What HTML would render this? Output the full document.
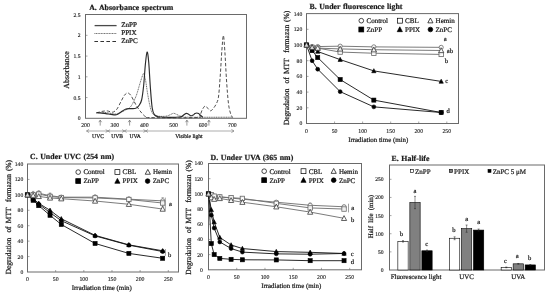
<!DOCTYPE html>
<html><head><meta charset="utf-8"><style>
html,body{margin:0;padding:0;background:#fff;width:550px;height:294px;overflow:hidden}
svg{display:block;will-change:transform}
text{font-family:"Liberation Serif", serif;text-rendering:geometricPrecision;stroke:#1a1a1a;stroke-width:0.22px}
</style></head><body>
<svg width="550" height="294" viewBox="0 0 550 294">
<rect width="550" height="294" fill="#fff"/>
<rect x="85.50" y="14.50" width="161.00" height="103.80" fill="none" stroke="#6a6a6a" stroke-width="1"/>
<text x="89.20" y="9.80" font-size="7.80" text-anchor="start" font-weight="bold" fill="#1a1a1a" letter-spacing="0.05" word-spacing="0.5">A. Absorbance spectrum</text>
<text x="80.50" y="120.25" font-size="5.60" text-anchor="end" font-weight="normal" fill="#1a1a1a" style="stroke-width:0.12px">0</text>
<line x1="85.50" y1="97.56" x2="87.50" y2="97.56" stroke="#6a6a6a" stroke-width="0.6"/>
<text x="80.50" y="99.51" font-size="5.60" text-anchor="end" font-weight="normal" fill="#1a1a1a" style="stroke-width:0.12px">0.5</text>
<line x1="85.50" y1="76.82" x2="87.50" y2="76.82" stroke="#6a6a6a" stroke-width="0.6"/>
<text x="80.50" y="78.77" font-size="5.60" text-anchor="end" font-weight="normal" fill="#1a1a1a" style="stroke-width:0.12px">1</text>
<line x1="85.50" y1="56.08" x2="87.50" y2="56.08" stroke="#6a6a6a" stroke-width="0.6"/>
<text x="80.50" y="58.03" font-size="5.60" text-anchor="end" font-weight="normal" fill="#1a1a1a" style="stroke-width:0.12px">1.5</text>
<line x1="85.50" y1="35.34" x2="87.50" y2="35.34" stroke="#6a6a6a" stroke-width="0.6"/>
<text x="80.50" y="37.29" font-size="5.60" text-anchor="end" font-weight="normal" fill="#1a1a1a" style="stroke-width:0.12px">2</text>
<text x="80.50" y="16.55" font-size="5.60" text-anchor="end" font-weight="normal" fill="#1a1a1a" style="stroke-width:0.12px">2.5</text>
<text x="85.50" y="126.80" font-size="5.80" text-anchor="middle" font-weight="normal" fill="#1a1a1a" style="stroke-width:0.12px">200</text>
<text x="114.88" y="126.80" font-size="5.80" text-anchor="middle" font-weight="normal" fill="#1a1a1a" style="stroke-width:0.12px">300</text>
<text x="144.26" y="126.80" font-size="5.80" text-anchor="middle" font-weight="normal" fill="#1a1a1a" style="stroke-width:0.12px">400</text>
<text x="173.64" y="126.80" font-size="5.80" text-anchor="middle" font-weight="normal" fill="#1a1a1a" style="stroke-width:0.12px">500</text>
<text x="203.02" y="126.80" font-size="5.80" text-anchor="middle" font-weight="normal" fill="#1a1a1a" style="stroke-width:0.12px">600</text>
<text x="232.40" y="126.80" font-size="5.80" text-anchor="middle" font-weight="normal" fill="#1a1a1a" style="stroke-width:0.12px">700</text>
<text x="0.00" y="0.00" font-size="7.80" text-anchor="middle" font-weight="normal" fill="#1a1a1a" transform="translate(68.8,70) rotate(-90)">Absorbance</text>
<line x1="94.6" y1="25.6" x2="116.6" y2="25.6" stroke="#4a4a4a" stroke-width="1.3"/>
<line x1="94.4" y1="33.5" x2="116.8" y2="33.5" stroke="#777" stroke-width="1" stroke-dasharray="1.1,0.5"/>
<line x1="94.4" y1="41.5" x2="116.8" y2="41.5" stroke="#333" stroke-width="1.1" stroke-dasharray="3.6,2.4"/>
<text x="121.20" y="27.10" font-size="7.10" text-anchor="start" font-weight="normal" fill="#1a1a1a" >ZnPP</text>
<text x="121.20" y="34.90" font-size="7.10" text-anchor="start" font-weight="normal" fill="#1a1a1a" >PPIX</text>
<text x="121.20" y="43.00" font-size="7.10" text-anchor="start" font-weight="normal" fill="#1a1a1a" >ZnPC</text>
<path d="M96.50,113.00 C97.25,112.97 99.42,112.87 101.00,112.80 C102.58,112.73 104.33,112.50 106.00,112.60 C107.67,112.70 109.33,113.17 111.00,113.40 C112.67,113.63 114.33,114.18 116.00,114.00 C117.67,113.82 119.33,113.00 121.00,112.30 C122.67,111.60 124.60,110.52 126.00,109.80 C127.40,109.08 128.43,108.80 129.40,108.00 C130.37,107.20 131.08,106.10 131.80,105.00 C132.52,103.90 132.92,103.07 133.70,101.40 C134.48,99.73 135.53,97.73 136.50,95.00 C137.47,92.27 138.58,88.00 139.50,85.00 C140.42,82.00 141.32,78.92 142.00,77.00 C142.68,75.08 143.02,73.00 143.60,73.50 C144.18,74.00 144.85,76.75 145.50,80.00 C146.15,83.25 146.83,89.00 147.50,93.00 C148.17,97.00 148.83,100.92 149.50,104.00 C150.17,107.08 150.83,109.75 151.50,111.50 C152.17,113.25 152.42,113.72 153.50,114.50 C154.58,115.28 155.92,115.92 158.00,116.20 C160.08,116.48 164.00,116.43 166.00,116.20 C168.00,115.97 168.73,115.28 170.00,114.80 C171.27,114.32 172.43,113.33 173.60,113.30 C174.77,113.27 175.60,114.05 177.00,114.60 C178.40,115.15 179.83,116.17 182.00,116.60 C184.17,117.03 181.58,117.10 190.00,117.20 C198.42,117.30 225.42,117.20 232.50,117.20" fill="none" stroke="#555" stroke-width="0.85" stroke-dasharray="1.1,0.6"/>
<path d="M96.50,113.00 C97.25,112.77 99.67,111.93 101.00,111.60 C102.33,111.27 103.45,111.12 104.50,111.00 C105.55,110.88 106.30,110.77 107.30,110.90 C108.30,111.03 109.48,111.62 110.50,111.80 C111.52,111.98 112.32,112.47 113.40,112.00 C114.48,111.53 115.73,110.75 117.00,109.00 C118.27,107.25 119.75,103.80 121.00,101.50 C122.25,99.20 123.38,96.63 124.50,95.20 C125.62,93.77 126.67,92.90 127.70,92.90 C128.73,92.90 129.70,93.92 130.70,95.20 C131.70,96.48 132.77,98.88 133.70,100.60 C134.63,102.32 135.45,104.05 136.30,105.50 C137.15,106.95 137.85,108.00 138.80,109.30 C139.75,110.60 140.87,112.07 142.00,113.30 C143.13,114.53 144.27,115.98 145.60,116.70 C146.93,117.42 141.60,117.45 150.00,117.60 C158.40,117.75 187.70,117.95 196.00,117.60 C204.30,117.25 198.73,116.85 199.80,115.50 C200.87,114.15 201.48,111.10 202.40,109.50 C203.32,107.90 204.37,106.05 205.30,105.90 C206.23,105.75 207.13,107.78 208.00,108.60 C208.87,109.42 209.63,110.80 210.50,110.80 C211.37,110.80 212.17,109.90 213.20,108.60 C214.23,107.30 215.80,105.10 216.70,103.00 C217.60,100.90 218.00,100.67 218.60,96.00 C219.20,91.33 219.75,82.67 220.30,75.00 C220.85,67.33 221.38,56.57 221.90,50.00 C222.42,43.43 222.90,35.27 223.40,35.60 C223.90,35.93 224.38,44.60 224.90,52.00 C225.42,59.40 225.92,71.50 226.50,80.00 C227.08,88.50 227.75,97.50 228.40,103.00 C229.05,108.50 229.70,110.57 230.40,113.00 C231.10,115.43 232.23,116.83 232.60,117.60" fill="none" stroke="#3a3a3a" stroke-width="0.9" stroke-dasharray="3.3,2"/>
<path d="M96.50,112.50 C97.25,112.58 99.42,112.82 101.00,113.00 C102.58,113.18 104.33,113.37 106.00,113.60 C107.67,113.83 109.27,114.20 111.00,114.40 C112.73,114.60 114.73,115.20 116.40,114.80 C118.07,114.40 119.50,112.92 121.00,112.00 C122.50,111.08 123.90,109.87 125.40,109.30 C126.90,108.73 128.27,108.77 130.00,108.60 C131.73,108.43 134.30,108.82 135.80,108.30 C137.30,107.78 138.03,106.88 139.00,105.50 C139.97,104.12 140.83,103.25 141.60,100.00 C142.37,96.75 142.97,92.00 143.60,86.00 C144.23,80.00 144.82,69.67 145.40,64.00 C145.98,58.33 146.55,52.33 147.10,52.00 C147.65,51.67 148.15,56.00 148.70,62.00 C149.25,68.00 149.82,80.33 150.40,88.00 C150.98,95.67 151.53,103.57 152.20,108.00 C152.87,112.43 153.43,113.15 154.40,114.60 C155.37,116.05 156.23,116.25 158.00,116.70 C159.77,117.15 162.00,117.20 165.00,117.30 C168.00,117.40 173.33,117.38 176.00,117.30 C178.67,117.22 179.78,117.13 181.00,116.80 C182.22,116.47 182.63,115.78 183.30,115.30 C183.97,114.82 184.50,114.22 185.00,113.90 C185.50,113.58 185.83,113.42 186.30,113.40 C186.77,113.38 187.25,113.53 187.80,113.80 C188.35,114.07 189.00,114.68 189.60,115.00 C190.20,115.32 190.80,115.70 191.40,115.70 C192.00,115.70 192.60,115.35 193.20,115.00 C193.80,114.65 194.40,113.93 195.00,113.60 C195.60,113.27 196.20,113.00 196.80,113.00 C197.40,113.00 198.00,113.23 198.60,113.60 C199.20,113.97 199.72,114.60 200.40,115.20 C201.08,115.80 202.32,116.87 202.70,117.20" fill="none" stroke="#2a2a2a" stroke-width="1.15"/>
<path d="M100.20,125.6 L100.20,120.2 M100.20,120.2 L98.80,122.2 M100.20,120.2 L101.60,122.2" stroke="#555" stroke-width="0.6" fill="none"/>
<path d="M129.60,125.6 L129.60,120.2 M129.60,120.2 L128.20,122.2 M129.60,120.2 L131.00,122.2" stroke="#555" stroke-width="0.6" fill="none"/>
<path d="M186.90,125.6 L186.90,120.2 M186.90,120.2 L185.50,122.2 M186.90,120.2 L188.30,122.2" stroke="#555" stroke-width="0.6" fill="none"/>
<path d="M208.90,125.6 L208.90,120.2 M208.90,120.2 L207.50,122.2 M208.90,120.2 L210.30,122.2" stroke="#555" stroke-width="0.6" fill="none"/>
<line x1="86.5" y1="131.0" x2="234" y2="131.0" stroke="#777" stroke-width="0.6"/>
<path d="M86.5,131.0 l2.6,-1.6 M86.5,131.0 l2.6,1.6 M234,131.0 l-2.6,-1.6 M234,131.0 l-2.6,1.6" stroke="#777" stroke-width="0.65" fill="none"/>
<path d="M107.9,131.0 l-2.2,-1.4 M107.9,131.0 l-2.2,1.4 M107.9,131.0 l2.2,-1.4 M107.9,131.0 l2.2,1.4" stroke="#777" stroke-width="0.65" fill="none"/>
<path d="M124.4,131.0 l-2.2,-1.4 M124.4,131.0 l-2.2,1.4 M124.4,131.0 l2.2,-1.4 M124.4,131.0 l2.2,1.4" stroke="#777" stroke-width="0.65" fill="none"/>
<path d="M145.7,131.0 l-2.2,-1.4 M145.7,131.0 l-2.2,1.4 M145.7,131.0 l2.2,-1.4 M145.7,131.0 l2.2,1.4" stroke="#777" stroke-width="0.65" fill="none"/>
<text x="98.00" y="137.50" font-size="5.60" text-anchor="middle" font-weight="normal" fill="#1a1a1a" >UVC</text>
<text x="117.20" y="138.20" font-size="5.60" text-anchor="middle" font-weight="normal" fill="#1a1a1a" >UVB</text>
<text x="135.20" y="137.90" font-size="5.60" text-anchor="middle" font-weight="normal" fill="#1a1a1a" >UVA</text>
<text x="175.20" y="137.70" font-size="5.60" text-anchor="start" font-weight="normal" fill="#1a1a1a" >Visible light</text>
<rect x="306.50" y="13.60" width="152.00" height="109.90" fill="none" stroke="#6a6a6a" stroke-width="1"/>
<text x="302.20" y="125.45" font-size="5.60" text-anchor="end" font-weight="normal" fill="#1a1a1a" style="stroke-width:0.12px">0</text>
<line x1="306.50" y1="107.80" x2="308.50" y2="107.80" stroke="#6a6a6a" stroke-width="0.6"/>
<text x="302.20" y="109.75" font-size="5.60" text-anchor="end" font-weight="normal" fill="#1a1a1a" style="stroke-width:0.12px">20</text>
<line x1="306.50" y1="92.10" x2="308.50" y2="92.10" stroke="#6a6a6a" stroke-width="0.6"/>
<text x="302.20" y="94.05" font-size="5.60" text-anchor="end" font-weight="normal" fill="#1a1a1a" style="stroke-width:0.12px">40</text>
<line x1="306.50" y1="76.40" x2="308.50" y2="76.40" stroke="#6a6a6a" stroke-width="0.6"/>
<text x="302.20" y="78.35" font-size="5.60" text-anchor="end" font-weight="normal" fill="#1a1a1a" style="stroke-width:0.12px">60</text>
<line x1="306.50" y1="60.70" x2="308.50" y2="60.70" stroke="#6a6a6a" stroke-width="0.6"/>
<text x="302.20" y="62.65" font-size="5.60" text-anchor="end" font-weight="normal" fill="#1a1a1a" style="stroke-width:0.12px">80</text>
<line x1="306.50" y1="45.00" x2="308.50" y2="45.00" stroke="#6a6a6a" stroke-width="0.6"/>
<text x="302.20" y="46.95" font-size="5.60" text-anchor="end" font-weight="normal" fill="#1a1a1a" style="stroke-width:0.12px">100</text>
<line x1="306.50" y1="29.30" x2="308.50" y2="29.30" stroke="#6a6a6a" stroke-width="0.6"/>
<text x="302.20" y="31.25" font-size="5.60" text-anchor="end" font-weight="normal" fill="#1a1a1a" style="stroke-width:0.12px">120</text>
<text x="302.20" y="15.55" font-size="5.60" text-anchor="end" font-weight="normal" fill="#1a1a1a" style="stroke-width:0.12px">140</text>
<text x="306.50" y="132.60" font-size="5.80" text-anchor="middle" font-weight="normal" fill="#1a1a1a" style="stroke-width:0.12px">0</text>
<line x1="334.56" y1="123.50" x2="334.56" y2="121.50" stroke="#6a6a6a" stroke-width="0.6"/>
<text x="334.56" y="132.60" font-size="5.80" text-anchor="middle" font-weight="normal" fill="#1a1a1a" style="stroke-width:0.12px">50</text>
<line x1="362.62" y1="123.50" x2="362.62" y2="121.50" stroke="#6a6a6a" stroke-width="0.6"/>
<text x="362.62" y="132.60" font-size="5.80" text-anchor="middle" font-weight="normal" fill="#1a1a1a" style="stroke-width:0.12px">100</text>
<line x1="390.68" y1="123.50" x2="390.68" y2="121.50" stroke="#6a6a6a" stroke-width="0.6"/>
<text x="390.68" y="132.60" font-size="5.80" text-anchor="middle" font-weight="normal" fill="#1a1a1a" style="stroke-width:0.12px">150</text>
<line x1="418.74" y1="123.50" x2="418.74" y2="121.50" stroke="#6a6a6a" stroke-width="0.6"/>
<text x="418.74" y="132.60" font-size="5.80" text-anchor="middle" font-weight="normal" fill="#1a1a1a" style="stroke-width:0.12px">200</text>
<line x1="446.80" y1="123.50" x2="446.80" y2="121.50" stroke="#6a6a6a" stroke-width="0.6"/>
<text x="446.80" y="132.60" font-size="5.80" text-anchor="middle" font-weight="normal" fill="#1a1a1a" style="stroke-width:0.12px">250</text>
<g transform="translate(289.20,125.10) rotate(-90) scale(0.95,1)">
<text x="0.00" y="0.00" font-size="7.80" text-anchor="start" font-weight="normal" fill="#1a1a1a" >Degradation</text>
<text x="43.89" y="0.00" font-size="7.80" text-anchor="start" font-weight="normal" fill="#1a1a1a" >of</text>
<text x="53.79" y="0.00" font-size="7.80" text-anchor="start" font-weight="normal" fill="#1a1a1a" >MTT</text>
<text x="76.11" y="0.00" font-size="7.80" text-anchor="start" font-weight="normal" fill="#1a1a1a" >formazan</text>
<text x="108.63" y="0.00" font-size="7.80" text-anchor="start" font-weight="normal" fill="#1a1a1a" >(%)</text>
</g>
<text x="378.20" y="141.90" font-size="6.90" text-anchor="middle" font-weight="normal" fill="#1a1a1a" >Irradiation time (min)</text>
<text x="309.40" y="8.90" font-size="7.80" text-anchor="start" font-weight="bold" fill="#1a1a1a" letter-spacing="0.05" word-spacing="0.5">B. Under fluorescence light</text>
<polyline points="306.50,45.00 312.11,46.57 317.72,46.57 340.17,46.18 373.84,46.88 441.19,47.35" fill="none" stroke="#6c6c6c" stroke-width="0.90"/>
<polyline points="306.50,45.00 312.11,47.35 317.72,48.14 340.17,48.92 373.84,49.71 441.19,50.49" fill="none" stroke="#6c6c6c" stroke-width="0.90"/>
<polyline points="306.50,45.00 312.11,47.35 317.72,48.14 340.17,52.06 373.84,53.24 441.19,54.42" fill="none" stroke="#6c6c6c" stroke-width="0.90"/>
<polyline points="306.50,45.00 312.11,50.65 317.72,57.56 340.17,79.54 373.84,100.11 441.19,112.51" fill="none" stroke="#111" stroke-width="0.90"/>
<polyline points="306.50,45.00 312.11,47.35 317.72,51.52 340.17,59.60 373.84,70.91 441.19,81.42" fill="none" stroke="#111" stroke-width="0.90"/>
<polyline points="306.50,45.00 312.11,60.70 317.72,69.18 340.17,91.63 373.84,106.86 441.19,112.51" fill="none" stroke="#111" stroke-width="0.90"/>
<g fill-opacity="0.85">
<circle cx="306.50" cy="45.00" r="2.09" fill="#fff" stroke="#666" stroke-width="0.80"/>
</g>
<g fill-opacity="0.85">
<circle cx="312.11" cy="46.57" r="2.09" fill="#fff" stroke="#666" stroke-width="0.80"/>
</g>
<g fill-opacity="0.85">
<circle cx="317.72" cy="46.57" r="2.09" fill="#fff" stroke="#666" stroke-width="0.80"/>
</g>
<g fill-opacity="0.85">
<circle cx="340.17" cy="46.18" r="2.09" fill="#fff" stroke="#666" stroke-width="0.80"/>
</g>
<g fill-opacity="0.85">
<circle cx="373.84" cy="46.88" r="2.09" fill="#fff" stroke="#666" stroke-width="0.80"/>
</g>
<g fill-opacity="0.85">
<circle cx="441.19" cy="47.35" r="2.09" fill="#fff" stroke="#666" stroke-width="0.80"/>
</g>
<g fill-opacity="0.85">
<rect x="304.30" y="42.80" width="4.40" height="4.40" fill="#fff" stroke="#666" stroke-width="0.80"/>
</g>
<g fill-opacity="0.85">
<rect x="309.91" y="45.15" width="4.40" height="4.40" fill="#fff" stroke="#666" stroke-width="0.80"/>
</g>
<g fill-opacity="0.85">
<rect x="315.52" y="45.94" width="4.40" height="4.40" fill="#fff" stroke="#666" stroke-width="0.80"/>
</g>
<g fill-opacity="0.85">
<rect x="337.97" y="49.86" width="4.40" height="4.40" fill="#fff" stroke="#666" stroke-width="0.80"/>
</g>
<g fill-opacity="0.85">
<rect x="371.64" y="51.04" width="4.40" height="4.40" fill="#fff" stroke="#666" stroke-width="0.80"/>
</g>
<g fill-opacity="0.85">
<rect x="438.99" y="52.22" width="4.40" height="4.40" fill="#fff" stroke="#666" stroke-width="0.80"/>
</g>
<rect x="304.45" y="42.95" width="4.10" height="4.10" fill="#000" stroke="#000" stroke-width="0.60"/>
<rect x="310.06" y="48.60" width="4.10" height="4.10" fill="#000" stroke="#000" stroke-width="0.60"/>
<rect x="315.67" y="55.51" width="4.10" height="4.10" fill="#000" stroke="#000" stroke-width="0.60"/>
<rect x="338.12" y="77.49" width="4.10" height="4.10" fill="#000" stroke="#000" stroke-width="0.60"/>
<rect x="371.79" y="98.06" width="4.10" height="4.10" fill="#000" stroke="#000" stroke-width="0.60"/>
<rect x="439.14" y="110.46" width="4.10" height="4.10" fill="#000" stroke="#000" stroke-width="0.60"/>
<path d="M306.50,42.74 L308.65,46.80 L304.35,46.80 Z" fill="#000" stroke="#000" stroke-width="0.60" stroke-linejoin="miter"/>
<path d="M312.11,45.10 L314.26,49.16 L309.96,49.16 Z" fill="#000" stroke="#000" stroke-width="0.60" stroke-linejoin="miter"/>
<path d="M317.72,49.26 L319.88,53.32 L315.57,53.32 Z" fill="#000" stroke="#000" stroke-width="0.60" stroke-linejoin="miter"/>
<path d="M340.17,57.35 L342.32,61.41 L338.02,61.41 Z" fill="#000" stroke="#000" stroke-width="0.60" stroke-linejoin="miter"/>
<path d="M373.84,68.65 L376.00,72.71 L371.69,72.71 Z" fill="#000" stroke="#000" stroke-width="0.60" stroke-linejoin="miter"/>
<path d="M441.19,79.17 L443.34,83.23 L439.04,83.23 Z" fill="#000" stroke="#000" stroke-width="0.60" stroke-linejoin="miter"/>
<circle cx="306.50" cy="45.00" r="1.95" fill="#000" stroke="#000" stroke-width="0.60"/>
<circle cx="312.11" cy="60.70" r="1.95" fill="#000" stroke="#000" stroke-width="0.60"/>
<circle cx="317.72" cy="69.18" r="1.95" fill="#000" stroke="#000" stroke-width="0.60"/>
<circle cx="340.17" cy="91.63" r="1.95" fill="#000" stroke="#000" stroke-width="0.60"/>
<circle cx="373.84" cy="106.86" r="1.95" fill="#000" stroke="#000" stroke-width="0.60"/>
<circle cx="441.19" cy="112.51" r="1.95" fill="#000" stroke="#000" stroke-width="0.60"/>
<g fill-opacity="0.85">
<path d="M306.50,42.29 L309.09,47.17 L303.91,47.17 Z" fill="#fff" stroke="#3a3a3a" stroke-width="0.80" stroke-linejoin="miter"/>
</g>
<g fill-opacity="0.85">
<path d="M312.11,44.64 L314.70,49.52 L309.52,49.52 Z" fill="#fff" stroke="#3a3a3a" stroke-width="0.80" stroke-linejoin="miter"/>
</g>
<g fill-opacity="0.85">
<path d="M317.72,45.43 L320.31,50.31 L315.14,50.31 Z" fill="#fff" stroke="#3a3a3a" stroke-width="0.80" stroke-linejoin="miter"/>
</g>
<g fill-opacity="0.85">
<path d="M340.17,46.21 L342.76,51.09 L337.58,51.09 Z" fill="#fff" stroke="#3a3a3a" stroke-width="0.80" stroke-linejoin="miter"/>
</g>
<g fill-opacity="0.85">
<path d="M373.84,47.00 L376.43,51.88 L371.26,51.88 Z" fill="#fff" stroke="#3a3a3a" stroke-width="0.80" stroke-linejoin="miter"/>
</g>
<g fill-opacity="0.85">
<path d="M441.19,47.78 L443.78,52.66 L438.60,52.66 Z" fill="#fff" stroke="#3a3a3a" stroke-width="0.80" stroke-linejoin="miter"/>
</g>
<circle cx="361.30" cy="20.70" r="2.33" fill="#fff" stroke="#000" stroke-width="0.70"/>
<text x="366.50" y="23.00" font-size="7.00" text-anchor="start" font-weight="normal" fill="#1a1a1a" >Control</text>
<rect x="397.45" y="18.25" width="4.90" height="4.90" fill="#fff" stroke="#000" stroke-width="0.70"/>
<text x="405.10" y="23.00" font-size="7.00" text-anchor="start" font-weight="normal" fill="#1a1a1a" >CBL</text>
<path d="M430.40,18.00 L432.97,22.86 L427.83,22.86 Z" fill="#fff" stroke="#000" stroke-width="0.70" stroke-linejoin="miter"/>
<text x="435.60" y="23.00" font-size="7.00" text-anchor="start" font-weight="normal" fill="#1a1a1a" >Hemin</text>
<rect x="358.85" y="27.05" width="4.90" height="4.90" fill="#000" stroke="#000" stroke-width="0.70"/>
<text x="366.50" y="31.80" font-size="7.00" text-anchor="start" font-weight="normal" fill="#1a1a1a" >ZnPP</text>
<path d="M399.80,26.80 L402.37,31.66 L397.23,31.66 Z" fill="#000" stroke="#000" stroke-width="0.70" stroke-linejoin="miter"/>
<text x="405.00" y="31.80" font-size="7.00" text-anchor="start" font-weight="normal" fill="#1a1a1a" >PPIX</text>
<circle cx="430.40" cy="29.50" r="2.33" fill="#000" stroke="#000" stroke-width="0.70"/>
<text x="435.60" y="31.80" font-size="7.00" text-anchor="start" font-weight="normal" fill="#1a1a1a" >ZnPC</text>
<text x="443.80" y="41.20" font-size="6.60" text-anchor="start" font-weight="normal" fill="#1a1a1a" >a</text>
<text x="446.80" y="52.70" font-size="6.60" text-anchor="start" font-weight="normal" fill="#1a1a1a" >ab</text>
<text x="444.80" y="63.40" font-size="6.60" text-anchor="start" font-weight="normal" fill="#1a1a1a" >b</text>
<text x="445.20" y="83.40" font-size="6.60" text-anchor="start" font-weight="normal" fill="#1a1a1a" >c</text>
<text x="446.40" y="113.30" font-size="6.60" text-anchor="start" font-weight="normal" fill="#1a1a1a" >d</text>
<rect x="27.50" y="164.00" width="151.00" height="108.00" fill="none" stroke="#6a6a6a" stroke-width="1"/>
<text x="23.20" y="273.95" font-size="5.60" text-anchor="end" font-weight="normal" fill="#1a1a1a" style="stroke-width:0.12px">0</text>
<line x1="27.50" y1="256.57" x2="29.50" y2="256.57" stroke="#6a6a6a" stroke-width="0.6"/>
<text x="23.20" y="258.52" font-size="5.60" text-anchor="end" font-weight="normal" fill="#1a1a1a" style="stroke-width:0.12px">20</text>
<line x1="27.50" y1="241.14" x2="29.50" y2="241.14" stroke="#6a6a6a" stroke-width="0.6"/>
<text x="23.20" y="243.09" font-size="5.60" text-anchor="end" font-weight="normal" fill="#1a1a1a" style="stroke-width:0.12px">40</text>
<line x1="27.50" y1="225.71" x2="29.50" y2="225.71" stroke="#6a6a6a" stroke-width="0.6"/>
<text x="23.20" y="227.66" font-size="5.60" text-anchor="end" font-weight="normal" fill="#1a1a1a" style="stroke-width:0.12px">60</text>
<line x1="27.50" y1="210.29" x2="29.50" y2="210.29" stroke="#6a6a6a" stroke-width="0.6"/>
<text x="23.20" y="212.24" font-size="5.60" text-anchor="end" font-weight="normal" fill="#1a1a1a" style="stroke-width:0.12px">80</text>
<line x1="27.50" y1="194.86" x2="29.50" y2="194.86" stroke="#6a6a6a" stroke-width="0.6"/>
<text x="23.20" y="196.81" font-size="5.60" text-anchor="end" font-weight="normal" fill="#1a1a1a" style="stroke-width:0.12px">100</text>
<line x1="27.50" y1="179.43" x2="29.50" y2="179.43" stroke="#6a6a6a" stroke-width="0.6"/>
<text x="23.20" y="181.38" font-size="5.60" text-anchor="end" font-weight="normal" fill="#1a1a1a" style="stroke-width:0.12px">120</text>
<text x="23.20" y="165.95" font-size="5.60" text-anchor="end" font-weight="normal" fill="#1a1a1a" style="stroke-width:0.12px">140</text>
<text x="27.50" y="281.10" font-size="5.80" text-anchor="middle" font-weight="normal" fill="#1a1a1a" style="stroke-width:0.12px">0</text>
<line x1="55.66" y1="272.00" x2="55.66" y2="270.00" stroke="#6a6a6a" stroke-width="0.6"/>
<text x="55.66" y="281.10" font-size="5.80" text-anchor="middle" font-weight="normal" fill="#1a1a1a" style="stroke-width:0.12px">50</text>
<line x1="83.82" y1="272.00" x2="83.82" y2="270.00" stroke="#6a6a6a" stroke-width="0.6"/>
<text x="83.82" y="281.10" font-size="5.80" text-anchor="middle" font-weight="normal" fill="#1a1a1a" style="stroke-width:0.12px">100</text>
<line x1="111.98" y1="272.00" x2="111.98" y2="270.00" stroke="#6a6a6a" stroke-width="0.6"/>
<text x="111.98" y="281.10" font-size="5.80" text-anchor="middle" font-weight="normal" fill="#1a1a1a" style="stroke-width:0.12px">150</text>
<line x1="140.14" y1="272.00" x2="140.14" y2="270.00" stroke="#6a6a6a" stroke-width="0.6"/>
<text x="140.14" y="281.10" font-size="5.80" text-anchor="middle" font-weight="normal" fill="#1a1a1a" style="stroke-width:0.12px">200</text>
<line x1="168.30" y1="272.00" x2="168.30" y2="270.00" stroke="#6a6a6a" stroke-width="0.6"/>
<text x="168.30" y="281.10" font-size="5.80" text-anchor="middle" font-weight="normal" fill="#1a1a1a" style="stroke-width:0.12px">250</text>
<g transform="translate(10.70,274.30) rotate(-90) scale(0.95,1)">
<text x="0.00" y="0.00" font-size="7.80" text-anchor="start" font-weight="normal" fill="#1a1a1a" >Degradation</text>
<text x="43.89" y="0.00" font-size="7.80" text-anchor="start" font-weight="normal" fill="#1a1a1a" >of</text>
<text x="53.79" y="0.00" font-size="7.80" text-anchor="start" font-weight="normal" fill="#1a1a1a" >MTT</text>
<text x="76.11" y="0.00" font-size="7.80" text-anchor="start" font-weight="normal" fill="#1a1a1a" >formazan</text>
<text x="108.63" y="0.00" font-size="7.80" text-anchor="start" font-weight="normal" fill="#1a1a1a" >(%)</text>
</g>
<text x="101.80" y="289.60" font-size="6.90" text-anchor="middle" font-weight="normal" fill="#1a1a1a" >Irradiation time (min)</text>
<text x="30.00" y="159.20" font-size="7.80" text-anchor="start" font-weight="bold" fill="#1a1a1a" letter-spacing="0.05" word-spacing="0.5">C. Under UVC (254 nm)</text>
<path d="M33.13,196.79 V191.39 M31.93,191.39 h2.4 M31.93,196.79 h2.4" stroke="#888" stroke-width="0.6" fill="none"/>
<path d="M38.76,196.01 V190.61 M37.56,190.61 h2.4 M37.56,196.01 h2.4" stroke="#888" stroke-width="0.6" fill="none"/>
<path d="M50.03,198.33 V192.93 M48.83,192.93 h2.4 M48.83,198.33 h2.4" stroke="#888" stroke-width="0.6" fill="none"/>
<path d="M95.08,199.49 V194.86 M93.88,194.86 h2.4 M93.88,199.49 h2.4" stroke="#888" stroke-width="0.6" fill="none"/>
<path d="M128.88,201.49 V196.86 M127.68,196.86 h2.4 M127.68,201.49 h2.4" stroke="#888" stroke-width="0.6" fill="none"/>
<path d="M162.67,204.50 V197.56 M161.47,197.56 h2.4 M161.47,204.50 h2.4" stroke="#888" stroke-width="0.6" fill="none"/>
<path d="M162.67,206.43 V200.26 M161.47,200.26 h2.4 M161.47,206.43 h2.4" stroke="#888" stroke-width="0.6" fill="none"/>
<line x1="165.30" y1="197.60" x2="165.30" y2="210.40" stroke="#777" stroke-width="0.7"/>
<line x1="165.40" y1="249.00" x2="165.40" y2="255.80" stroke="#777" stroke-width="0.7"/>
<polyline points="27.50,194.86 33.13,194.09 38.76,193.31 50.03,195.63 61.29,197.17 95.08,197.17 128.88,199.18 162.67,200.87" fill="none" stroke="#6c6c6c" stroke-width="0.90"/>
<polyline points="27.50,194.86 33.13,194.86 38.76,194.09 50.03,196.40 61.29,197.56 95.08,197.94 128.88,199.49 162.67,203.03" fill="none" stroke="#6c6c6c" stroke-width="0.90"/>
<polyline points="27.50,194.86 33.13,195.63 38.76,196.40 50.03,197.94 61.29,198.71 95.08,201.03 128.88,204.27 162.67,209.05" fill="none" stroke="#6c6c6c" stroke-width="0.90"/>
<polyline points="27.50,194.86 33.13,200.26 38.76,205.66 50.03,215.30 61.29,224.48 95.08,243.46 128.88,253.41 162.67,258.27" fill="none" stroke="#111" stroke-width="0.90"/>
<polyline points="27.50,194.86 33.13,198.71 38.76,203.34 50.03,210.29 61.29,218.77 95.08,235.36 128.88,244.85 162.67,250.79" fill="none" stroke="#111" stroke-width="0.90"/>
<polyline points="27.50,194.86 33.13,199.49 38.76,204.11 50.03,212.60 61.29,220.70 95.08,235.90 128.88,245.15 162.67,251.56" fill="none" stroke="#111" stroke-width="0.90"/>
<g fill-opacity="0.85">
<circle cx="27.50" cy="194.86" r="2.09" fill="#fff" stroke="#666" stroke-width="0.80"/>
</g>
<g fill-opacity="0.85">
<circle cx="33.13" cy="194.09" r="2.09" fill="#fff" stroke="#666" stroke-width="0.80"/>
</g>
<g fill-opacity="0.85">
<circle cx="38.76" cy="193.31" r="2.09" fill="#fff" stroke="#666" stroke-width="0.80"/>
</g>
<g fill-opacity="0.85">
<circle cx="50.03" cy="195.63" r="2.09" fill="#fff" stroke="#666" stroke-width="0.80"/>
</g>
<g fill-opacity="0.85">
<circle cx="61.29" cy="197.17" r="2.09" fill="#fff" stroke="#666" stroke-width="0.80"/>
</g>
<g fill-opacity="0.85">
<circle cx="95.08" cy="197.17" r="2.09" fill="#fff" stroke="#666" stroke-width="0.80"/>
</g>
<g fill-opacity="0.85">
<circle cx="128.88" cy="199.18" r="2.09" fill="#fff" stroke="#666" stroke-width="0.80"/>
</g>
<g fill-opacity="0.85">
<circle cx="162.67" cy="200.87" r="2.09" fill="#fff" stroke="#666" stroke-width="0.80"/>
</g>
<g fill-opacity="0.85">
<rect x="25.30" y="192.66" width="4.40" height="4.40" fill="#fff" stroke="#666" stroke-width="0.80"/>
</g>
<g fill-opacity="0.85">
<rect x="30.93" y="192.66" width="4.40" height="4.40" fill="#fff" stroke="#666" stroke-width="0.80"/>
</g>
<g fill-opacity="0.85">
<rect x="36.56" y="191.89" width="4.40" height="4.40" fill="#fff" stroke="#666" stroke-width="0.80"/>
</g>
<g fill-opacity="0.85">
<rect x="47.83" y="194.20" width="4.40" height="4.40" fill="#fff" stroke="#666" stroke-width="0.80"/>
</g>
<g fill-opacity="0.85">
<rect x="59.09" y="195.36" width="4.40" height="4.40" fill="#fff" stroke="#666" stroke-width="0.80"/>
</g>
<g fill-opacity="0.85">
<rect x="92.88" y="195.74" width="4.40" height="4.40" fill="#fff" stroke="#666" stroke-width="0.80"/>
</g>
<g fill-opacity="0.85">
<rect x="126.68" y="197.29" width="4.40" height="4.40" fill="#fff" stroke="#666" stroke-width="0.80"/>
</g>
<g fill-opacity="0.85">
<rect x="160.47" y="200.83" width="4.40" height="4.40" fill="#fff" stroke="#666" stroke-width="0.80"/>
</g>
<rect x="25.45" y="192.81" width="4.10" height="4.10" fill="#000" stroke="#000" stroke-width="0.60"/>
<rect x="31.08" y="198.21" width="4.10" height="4.10" fill="#000" stroke="#000" stroke-width="0.60"/>
<rect x="36.71" y="203.61" width="4.10" height="4.10" fill="#000" stroke="#000" stroke-width="0.60"/>
<rect x="47.98" y="213.25" width="4.10" height="4.10" fill="#000" stroke="#000" stroke-width="0.60"/>
<rect x="59.24" y="222.43" width="4.10" height="4.10" fill="#000" stroke="#000" stroke-width="0.60"/>
<rect x="93.03" y="241.41" width="4.10" height="4.10" fill="#000" stroke="#000" stroke-width="0.60"/>
<rect x="126.83" y="251.36" width="4.10" height="4.10" fill="#000" stroke="#000" stroke-width="0.60"/>
<rect x="160.62" y="256.22" width="4.10" height="4.10" fill="#000" stroke="#000" stroke-width="0.60"/>
<path d="M27.50,192.60 L29.65,196.66 L25.35,196.66 Z" fill="#000" stroke="#000" stroke-width="0.60" stroke-linejoin="miter"/>
<path d="M33.13,196.46 L35.28,200.52 L30.98,200.52 Z" fill="#000" stroke="#000" stroke-width="0.60" stroke-linejoin="miter"/>
<path d="M38.76,201.09 L40.92,205.15 L36.61,205.15 Z" fill="#000" stroke="#000" stroke-width="0.60" stroke-linejoin="miter"/>
<path d="M50.03,208.03 L52.18,212.09 L47.88,212.09 Z" fill="#000" stroke="#000" stroke-width="0.60" stroke-linejoin="miter"/>
<path d="M61.29,216.52 L63.44,220.58 L59.14,220.58 Z" fill="#000" stroke="#000" stroke-width="0.60" stroke-linejoin="miter"/>
<path d="M95.08,233.10 L97.24,237.16 L92.93,237.16 Z" fill="#000" stroke="#000" stroke-width="0.60" stroke-linejoin="miter"/>
<path d="M128.88,242.59 L131.03,246.65 L126.72,246.65 Z" fill="#000" stroke="#000" stroke-width="0.60" stroke-linejoin="miter"/>
<path d="M162.67,248.53 L164.82,252.59 L160.52,252.59 Z" fill="#000" stroke="#000" stroke-width="0.60" stroke-linejoin="miter"/>
<circle cx="27.50" cy="194.86" r="1.95" fill="#000" stroke="#000" stroke-width="0.60"/>
<circle cx="33.13" cy="199.49" r="1.95" fill="#000" stroke="#000" stroke-width="0.60"/>
<circle cx="38.76" cy="204.11" r="1.95" fill="#000" stroke="#000" stroke-width="0.60"/>
<circle cx="50.03" cy="212.60" r="1.95" fill="#000" stroke="#000" stroke-width="0.60"/>
<circle cx="61.29" cy="220.70" r="1.95" fill="#000" stroke="#000" stroke-width="0.60"/>
<circle cx="95.08" cy="235.90" r="1.95" fill="#000" stroke="#000" stroke-width="0.60"/>
<circle cx="128.88" cy="245.15" r="1.95" fill="#000" stroke="#000" stroke-width="0.60"/>
<circle cx="162.67" cy="251.56" r="1.95" fill="#000" stroke="#000" stroke-width="0.60"/>
<g fill-opacity="0.85">
<path d="M27.50,192.15 L30.09,197.03 L24.91,197.03 Z" fill="#fff" stroke="#3a3a3a" stroke-width="0.80" stroke-linejoin="miter"/>
</g>
<g fill-opacity="0.85">
<path d="M33.13,192.92 L35.72,197.80 L30.54,197.80 Z" fill="#fff" stroke="#3a3a3a" stroke-width="0.80" stroke-linejoin="miter"/>
</g>
<g fill-opacity="0.85">
<path d="M38.76,193.69 L41.35,198.57 L36.18,198.57 Z" fill="#fff" stroke="#3a3a3a" stroke-width="0.80" stroke-linejoin="miter"/>
</g>
<g fill-opacity="0.85">
<path d="M50.03,195.23 L52.62,200.11 L47.44,200.11 Z" fill="#fff" stroke="#3a3a3a" stroke-width="0.80" stroke-linejoin="miter"/>
</g>
<g fill-opacity="0.85">
<path d="M61.29,196.00 L63.88,200.88 L58.70,200.88 Z" fill="#fff" stroke="#3a3a3a" stroke-width="0.80" stroke-linejoin="miter"/>
</g>
<g fill-opacity="0.85">
<path d="M95.08,198.32 L97.67,203.20 L92.50,203.20 Z" fill="#fff" stroke="#3a3a3a" stroke-width="0.80" stroke-linejoin="miter"/>
</g>
<g fill-opacity="0.85">
<path d="M128.88,201.56 L131.46,206.44 L126.29,206.44 Z" fill="#fff" stroke="#3a3a3a" stroke-width="0.80" stroke-linejoin="miter"/>
</g>
<g fill-opacity="0.85">
<path d="M162.67,206.34 L165.26,211.22 L160.08,211.22 Z" fill="#fff" stroke="#3a3a3a" stroke-width="0.80" stroke-linejoin="miter"/>
</g>
<circle cx="78.20" cy="172.10" r="2.33" fill="#fff" stroke="#000" stroke-width="0.70"/>
<text x="83.40" y="174.40" font-size="7.00" text-anchor="start" font-weight="normal" fill="#1a1a1a" >Control</text>
<rect x="114.95" y="169.65" width="4.90" height="4.90" fill="#fff" stroke="#000" stroke-width="0.70"/>
<text x="122.60" y="174.40" font-size="7.00" text-anchor="start" font-weight="normal" fill="#1a1a1a" >CBL</text>
<path d="M147.80,169.41 L150.37,174.26 L145.23,174.26 Z" fill="#fff" stroke="#000" stroke-width="0.70" stroke-linejoin="miter"/>
<text x="153.00" y="174.40" font-size="7.00" text-anchor="start" font-weight="normal" fill="#1a1a1a" >Hemin</text>
<rect x="75.75" y="178.65" width="4.90" height="4.90" fill="#000" stroke="#000" stroke-width="0.70"/>
<text x="83.40" y="183.40" font-size="7.00" text-anchor="start" font-weight="normal" fill="#1a1a1a" >ZnPP</text>
<path d="M117.40,178.41 L119.97,183.26 L114.83,183.26 Z" fill="#000" stroke="#000" stroke-width="0.70" stroke-linejoin="miter"/>
<text x="122.60" y="183.40" font-size="7.00" text-anchor="start" font-weight="normal" fill="#1a1a1a" >PPIX</text>
<circle cx="147.60" cy="181.10" r="2.33" fill="#000" stroke="#000" stroke-width="0.70"/>
<text x="152.80" y="183.40" font-size="7.00" text-anchor="start" font-weight="normal" fill="#1a1a1a" >ZnPC</text>
<text x="169.00" y="205.70" font-size="6.60" text-anchor="start" font-weight="normal" fill="#1a1a1a" >a</text>
<text x="168.00" y="256.50" font-size="6.60" text-anchor="start" font-weight="normal" fill="#1a1a1a" >b</text>
<rect x="208.50" y="163.50" width="153.00" height="106.30" fill="none" stroke="#6a6a6a" stroke-width="1"/>
<text x="202.90" y="271.75" font-size="5.60" text-anchor="end" font-weight="normal" fill="#1a1a1a" style="stroke-width:0.12px">0</text>
<line x1="208.50" y1="254.61" x2="210.50" y2="254.61" stroke="#6a6a6a" stroke-width="0.6"/>
<text x="202.90" y="256.56" font-size="5.60" text-anchor="end" font-weight="normal" fill="#1a1a1a" style="stroke-width:0.12px">20</text>
<line x1="208.50" y1="239.43" x2="210.50" y2="239.43" stroke="#6a6a6a" stroke-width="0.6"/>
<text x="202.90" y="241.38" font-size="5.60" text-anchor="end" font-weight="normal" fill="#1a1a1a" style="stroke-width:0.12px">40</text>
<line x1="208.50" y1="224.24" x2="210.50" y2="224.24" stroke="#6a6a6a" stroke-width="0.6"/>
<text x="202.90" y="226.19" font-size="5.60" text-anchor="end" font-weight="normal" fill="#1a1a1a" style="stroke-width:0.12px">60</text>
<line x1="208.50" y1="209.06" x2="210.50" y2="209.06" stroke="#6a6a6a" stroke-width="0.6"/>
<text x="202.90" y="211.01" font-size="5.60" text-anchor="end" font-weight="normal" fill="#1a1a1a" style="stroke-width:0.12px">80</text>
<line x1="208.50" y1="193.87" x2="210.50" y2="193.87" stroke="#6a6a6a" stroke-width="0.6"/>
<text x="202.90" y="195.82" font-size="5.60" text-anchor="end" font-weight="normal" fill="#1a1a1a" style="stroke-width:0.12px">100</text>
<line x1="208.50" y1="178.69" x2="210.50" y2="178.69" stroke="#6a6a6a" stroke-width="0.6"/>
<text x="202.90" y="180.64" font-size="5.60" text-anchor="end" font-weight="normal" fill="#1a1a1a" style="stroke-width:0.12px">120</text>
<text x="202.90" y="165.45" font-size="5.60" text-anchor="end" font-weight="normal" fill="#1a1a1a" style="stroke-width:0.12px">140</text>
<text x="208.50" y="278.90" font-size="5.80" text-anchor="middle" font-weight="normal" fill="#1a1a1a" style="stroke-width:0.12px">0</text>
<line x1="236.74" y1="269.80" x2="236.74" y2="267.80" stroke="#6a6a6a" stroke-width="0.6"/>
<text x="236.74" y="278.90" font-size="5.80" text-anchor="middle" font-weight="normal" fill="#1a1a1a" style="stroke-width:0.12px">50</text>
<line x1="264.98" y1="269.80" x2="264.98" y2="267.80" stroke="#6a6a6a" stroke-width="0.6"/>
<text x="264.98" y="278.90" font-size="5.80" text-anchor="middle" font-weight="normal" fill="#1a1a1a" style="stroke-width:0.12px">100</text>
<line x1="293.22" y1="269.80" x2="293.22" y2="267.80" stroke="#6a6a6a" stroke-width="0.6"/>
<text x="293.22" y="278.90" font-size="5.80" text-anchor="middle" font-weight="normal" fill="#1a1a1a" style="stroke-width:0.12px">150</text>
<line x1="321.46" y1="269.80" x2="321.46" y2="267.80" stroke="#6a6a6a" stroke-width="0.6"/>
<text x="321.46" y="278.90" font-size="5.80" text-anchor="middle" font-weight="normal" fill="#1a1a1a" style="stroke-width:0.12px">200</text>
<line x1="349.70" y1="269.80" x2="349.70" y2="267.80" stroke="#6a6a6a" stroke-width="0.6"/>
<text x="349.70" y="278.90" font-size="5.80" text-anchor="middle" font-weight="normal" fill="#1a1a1a" style="stroke-width:0.12px">250</text>
<g transform="translate(190.80,274.70) rotate(-90) scale(0.95,1)">
<text x="0.00" y="0.00" font-size="7.80" text-anchor="start" font-weight="normal" fill="#1a1a1a" >Degradation</text>
<text x="43.89" y="0.00" font-size="7.80" text-anchor="start" font-weight="normal" fill="#1a1a1a" >of</text>
<text x="53.79" y="0.00" font-size="7.80" text-anchor="start" font-weight="normal" fill="#1a1a1a" >MTT</text>
<text x="76.11" y="0.00" font-size="7.80" text-anchor="start" font-weight="normal" fill="#1a1a1a" >formazan</text>
<text x="108.63" y="0.00" font-size="7.80" text-anchor="start" font-weight="normal" fill="#1a1a1a" >(%)</text>
</g>
<text x="291.20" y="287.60" font-size="6.90" text-anchor="middle" font-weight="normal" fill="#1a1a1a" >Irradiation time (min)</text>
<text x="210.60" y="160.20" font-size="7.80" text-anchor="start" font-weight="bold" fill="#1a1a1a" letter-spacing="0.05" word-spacing="0.5">D. Under UVA (365 nm)</text>
<path d="M276.28,204.88 V201.08 M275.08,201.08 h2.4 M275.08,204.88 h2.4" stroke="#888" stroke-width="0.6" fill="none"/>
<path d="M310.16,207.54 V202.98 M308.96,202.98 h2.4 M308.96,207.54 h2.4" stroke="#888" stroke-width="0.6" fill="none"/>
<path d="M344.05,209.82 V205.26 M342.85,205.26 h2.4 M342.85,209.82 h2.4" stroke="#888" stroke-width="0.6" fill="none"/>
<path d="M344.05,210.58 V206.02 M342.85,206.02 h2.4 M342.85,210.58 h2.4" stroke="#888" stroke-width="0.6" fill="none"/>
<line x1="348.50" y1="203.70" x2="348.50" y2="212.40" stroke="#777" stroke-width="0.7"/>
<polyline points="208.50,193.87 211.32,194.63 214.15,196.15 219.80,196.91 231.09,198.05 242.39,199.19 276.28,202.22 310.16,205.26 344.05,206.78" fill="none" stroke="#6c6c6c" stroke-width="0.90"/>
<polyline points="208.50,193.87 211.32,194.63 214.15,196.15 219.80,196.91 231.09,197.67 242.39,198.43 276.28,203.36 310.16,207.92 344.05,209.06" fill="none" stroke="#6c6c6c" stroke-width="0.90"/>
<polyline points="208.50,193.87 211.32,197.67 214.15,199.19 219.80,198.43 231.09,200.33 242.39,202.22 276.28,206.78 310.16,212.09 344.05,218.32" fill="none" stroke="#6c6c6c" stroke-width="0.90"/>
<polyline points="208.50,193.87 211.32,243.60 214.15,254.61 219.80,258.41 231.09,259.32 242.39,259.78 276.28,259.93 310.16,260.69 344.05,260.69" fill="none" stroke="#111" stroke-width="0.90"/>
<polyline points="208.50,193.87 211.32,209.82 214.15,221.97 219.80,237.45 231.09,244.97 242.39,248.54 276.28,251.58 310.16,252.34 344.05,253.48" fill="none" stroke="#111" stroke-width="0.90"/>
<polyline points="208.50,193.87 211.32,215.13 214.15,228.04 219.80,241.93 231.09,248.54 242.39,252.11 276.28,253.86 310.16,254.23 344.05,253.48" fill="none" stroke="#111" stroke-width="0.90"/>
<g fill-opacity="0.85">
<circle cx="208.50" cy="193.87" r="2.09" fill="#fff" stroke="#666" stroke-width="0.80"/>
</g>
<g fill-opacity="0.85">
<circle cx="211.32" cy="194.63" r="2.09" fill="#fff" stroke="#666" stroke-width="0.80"/>
</g>
<g fill-opacity="0.85">
<circle cx="214.15" cy="196.15" r="2.09" fill="#fff" stroke="#666" stroke-width="0.80"/>
</g>
<g fill-opacity="0.85">
<circle cx="219.80" cy="196.91" r="2.09" fill="#fff" stroke="#666" stroke-width="0.80"/>
</g>
<g fill-opacity="0.85">
<circle cx="231.09" cy="198.05" r="2.09" fill="#fff" stroke="#666" stroke-width="0.80"/>
</g>
<g fill-opacity="0.85">
<circle cx="242.39" cy="199.19" r="2.09" fill="#fff" stroke="#666" stroke-width="0.80"/>
</g>
<g fill-opacity="0.85">
<circle cx="276.28" cy="202.22" r="2.09" fill="#fff" stroke="#666" stroke-width="0.80"/>
</g>
<g fill-opacity="0.85">
<circle cx="310.16" cy="205.26" r="2.09" fill="#fff" stroke="#666" stroke-width="0.80"/>
</g>
<g fill-opacity="0.85">
<circle cx="344.05" cy="206.78" r="2.09" fill="#fff" stroke="#666" stroke-width="0.80"/>
</g>
<g fill-opacity="0.85">
<rect x="206.30" y="191.67" width="4.40" height="4.40" fill="#fff" stroke="#666" stroke-width="0.80"/>
</g>
<g fill-opacity="0.85">
<rect x="209.12" y="192.43" width="4.40" height="4.40" fill="#fff" stroke="#666" stroke-width="0.80"/>
</g>
<g fill-opacity="0.85">
<rect x="211.95" y="193.95" width="4.40" height="4.40" fill="#fff" stroke="#666" stroke-width="0.80"/>
</g>
<g fill-opacity="0.85">
<rect x="217.60" y="194.71" width="4.40" height="4.40" fill="#fff" stroke="#666" stroke-width="0.80"/>
</g>
<g fill-opacity="0.85">
<rect x="228.89" y="195.47" width="4.40" height="4.40" fill="#fff" stroke="#666" stroke-width="0.80"/>
</g>
<g fill-opacity="0.85">
<rect x="240.19" y="196.23" width="4.40" height="4.40" fill="#fff" stroke="#666" stroke-width="0.80"/>
</g>
<g fill-opacity="0.85">
<rect x="274.08" y="201.16" width="4.40" height="4.40" fill="#fff" stroke="#666" stroke-width="0.80"/>
</g>
<g fill-opacity="0.85">
<rect x="307.96" y="205.72" width="4.40" height="4.40" fill="#fff" stroke="#666" stroke-width="0.80"/>
</g>
<g fill-opacity="0.85">
<rect x="341.85" y="206.86" width="4.40" height="4.40" fill="#fff" stroke="#666" stroke-width="0.80"/>
</g>
<rect x="206.45" y="191.82" width="4.10" height="4.10" fill="#000" stroke="#000" stroke-width="0.60"/>
<rect x="209.27" y="241.55" width="4.10" height="4.10" fill="#000" stroke="#000" stroke-width="0.60"/>
<rect x="212.10" y="252.56" width="4.10" height="4.10" fill="#000" stroke="#000" stroke-width="0.60"/>
<rect x="217.75" y="256.36" width="4.10" height="4.10" fill="#000" stroke="#000" stroke-width="0.60"/>
<rect x="229.04" y="257.27" width="4.10" height="4.10" fill="#000" stroke="#000" stroke-width="0.60"/>
<rect x="240.34" y="257.73" width="4.10" height="4.10" fill="#000" stroke="#000" stroke-width="0.60"/>
<rect x="274.23" y="257.88" width="4.10" height="4.10" fill="#000" stroke="#000" stroke-width="0.60"/>
<rect x="308.11" y="258.64" width="4.10" height="4.10" fill="#000" stroke="#000" stroke-width="0.60"/>
<rect x="342.00" y="258.64" width="4.10" height="4.10" fill="#000" stroke="#000" stroke-width="0.60"/>
<path d="M208.50,191.62 L210.65,195.68 L206.35,195.68 Z" fill="#000" stroke="#000" stroke-width="0.60" stroke-linejoin="miter"/>
<path d="M211.32,207.56 L213.48,211.62 L209.17,211.62 Z" fill="#000" stroke="#000" stroke-width="0.60" stroke-linejoin="miter"/>
<path d="M214.15,219.71 L216.30,223.77 L212.00,223.77 Z" fill="#000" stroke="#000" stroke-width="0.60" stroke-linejoin="miter"/>
<path d="M219.80,235.20 L221.95,239.26 L217.64,239.26 Z" fill="#000" stroke="#000" stroke-width="0.60" stroke-linejoin="miter"/>
<path d="M231.09,242.72 L233.24,246.78 L228.94,246.78 Z" fill="#000" stroke="#000" stroke-width="0.60" stroke-linejoin="miter"/>
<path d="M242.39,246.29 L244.54,250.34 L240.24,250.34 Z" fill="#000" stroke="#000" stroke-width="0.60" stroke-linejoin="miter"/>
<path d="M276.28,249.32 L278.43,253.38 L274.12,253.38 Z" fill="#000" stroke="#000" stroke-width="0.60" stroke-linejoin="miter"/>
<path d="M310.16,250.08 L312.32,254.14 L308.01,254.14 Z" fill="#000" stroke="#000" stroke-width="0.60" stroke-linejoin="miter"/>
<path d="M344.05,251.22 L346.20,255.28 L341.90,255.28 Z" fill="#000" stroke="#000" stroke-width="0.60" stroke-linejoin="miter"/>
<circle cx="208.50" cy="193.87" r="1.95" fill="#000" stroke="#000" stroke-width="0.60"/>
<circle cx="211.32" cy="215.13" r="1.95" fill="#000" stroke="#000" stroke-width="0.60"/>
<circle cx="214.15" cy="228.04" r="1.95" fill="#000" stroke="#000" stroke-width="0.60"/>
<circle cx="219.80" cy="241.93" r="1.95" fill="#000" stroke="#000" stroke-width="0.60"/>
<circle cx="231.09" cy="248.54" r="1.95" fill="#000" stroke="#000" stroke-width="0.60"/>
<circle cx="242.39" cy="252.11" r="1.95" fill="#000" stroke="#000" stroke-width="0.60"/>
<circle cx="276.28" cy="253.86" r="1.95" fill="#000" stroke="#000" stroke-width="0.60"/>
<circle cx="310.16" cy="254.23" r="1.95" fill="#000" stroke="#000" stroke-width="0.60"/>
<circle cx="344.05" cy="253.48" r="1.95" fill="#000" stroke="#000" stroke-width="0.60"/>
<g fill-opacity="0.85">
<path d="M208.50,191.16 L211.09,196.04 L205.91,196.04 Z" fill="#fff" stroke="#3a3a3a" stroke-width="0.80" stroke-linejoin="miter"/>
</g>
<g fill-opacity="0.85">
<path d="M211.32,194.96 L213.91,199.84 L208.74,199.84 Z" fill="#fff" stroke="#3a3a3a" stroke-width="0.80" stroke-linejoin="miter"/>
</g>
<g fill-opacity="0.85">
<path d="M214.15,196.48 L216.74,201.35 L211.56,201.35 Z" fill="#fff" stroke="#3a3a3a" stroke-width="0.80" stroke-linejoin="miter"/>
</g>
<g fill-opacity="0.85">
<path d="M219.80,195.72 L222.38,200.60 L217.21,200.60 Z" fill="#fff" stroke="#3a3a3a" stroke-width="0.80" stroke-linejoin="miter"/>
</g>
<g fill-opacity="0.85">
<path d="M231.09,197.61 L233.68,202.49 L228.50,202.49 Z" fill="#fff" stroke="#3a3a3a" stroke-width="0.80" stroke-linejoin="miter"/>
</g>
<g fill-opacity="0.85">
<path d="M242.39,199.51 L244.98,204.39 L239.80,204.39 Z" fill="#fff" stroke="#3a3a3a" stroke-width="0.80" stroke-linejoin="miter"/>
</g>
<g fill-opacity="0.85">
<path d="M276.28,204.07 L278.86,208.95 L273.69,208.95 Z" fill="#fff" stroke="#3a3a3a" stroke-width="0.80" stroke-linejoin="miter"/>
</g>
<g fill-opacity="0.85">
<path d="M310.16,209.38 L312.75,214.26 L307.58,214.26 Z" fill="#fff" stroke="#3a3a3a" stroke-width="0.80" stroke-linejoin="miter"/>
</g>
<g fill-opacity="0.85">
<path d="M344.05,215.61 L346.64,220.49 L341.46,220.49 Z" fill="#fff" stroke="#3a3a3a" stroke-width="0.80" stroke-linejoin="miter"/>
</g>
<circle cx="264.20" cy="171.20" r="2.33" fill="#fff" stroke="#000" stroke-width="0.70"/>
<text x="269.40" y="173.50" font-size="7.00" text-anchor="start" font-weight="normal" fill="#1a1a1a" >Control</text>
<rect x="301.05" y="168.75" width="4.90" height="4.90" fill="#fff" stroke="#000" stroke-width="0.70"/>
<text x="308.70" y="173.50" font-size="7.00" text-anchor="start" font-weight="normal" fill="#1a1a1a" >CBL</text>
<path d="M333.70,168.50 L336.27,173.36 L331.13,173.36 Z" fill="#fff" stroke="#000" stroke-width="0.70" stroke-linejoin="miter"/>
<text x="338.90" y="173.50" font-size="7.00" text-anchor="start" font-weight="normal" fill="#1a1a1a" >Hemin</text>
<rect x="261.75" y="177.75" width="4.90" height="4.90" fill="#000" stroke="#000" stroke-width="0.70"/>
<text x="269.40" y="182.50" font-size="7.00" text-anchor="start" font-weight="normal" fill="#1a1a1a" >ZnPP</text>
<path d="M303.50,177.50 L306.07,182.36 L300.93,182.36 Z" fill="#000" stroke="#000" stroke-width="0.70" stroke-linejoin="miter"/>
<text x="308.70" y="182.50" font-size="7.00" text-anchor="start" font-weight="normal" fill="#1a1a1a" >PPIX</text>
<circle cx="333.70" cy="180.20" r="2.33" fill="#000" stroke="#000" stroke-width="0.70"/>
<text x="338.90" y="182.50" font-size="7.00" text-anchor="start" font-weight="normal" fill="#1a1a1a" >ZnPC</text>
<text x="351.20" y="210.20" font-size="6.60" text-anchor="start" font-weight="normal" fill="#1a1a1a" >a</text>
<text x="350.90" y="222.40" font-size="6.60" text-anchor="start" font-weight="normal" fill="#1a1a1a" >b</text>
<text x="350.80" y="255.60" font-size="6.60" text-anchor="start" font-weight="normal" fill="#1a1a1a" >c</text>
<text x="350.70" y="264.00" font-size="6.60" text-anchor="start" font-weight="normal" fill="#1a1a1a" >d</text>
<rect x="389.50" y="165.00" width="155.00" height="105.00" fill="none" stroke="#6a6a6a" stroke-width="1"/>
<text x="391.60" y="160.80" font-size="7.80" text-anchor="start" font-weight="bold" fill="#1a1a1a" letter-spacing="0.05" word-spacing="0.5">E. Half-life</text>
<text x="383.60" y="271.95" font-size="5.60" text-anchor="end" font-weight="normal" fill="#1a1a1a" style="stroke-width:0.12px">0</text>
<text x="383.60" y="253.81" font-size="5.60" text-anchor="end" font-weight="normal" fill="#1a1a1a" style="stroke-width:0.12px">50</text>
<line x1="389.50" y1="251.86" x2="391.50" y2="251.86" stroke="#6a6a6a" stroke-width="0.6"/>
<text x="383.60" y="235.67" font-size="5.60" text-anchor="end" font-weight="normal" fill="#1a1a1a" style="stroke-width:0.12px">100</text>
<line x1="389.50" y1="233.72" x2="391.50" y2="233.72" stroke="#6a6a6a" stroke-width="0.6"/>
<text x="383.60" y="217.53" font-size="5.60" text-anchor="end" font-weight="normal" fill="#1a1a1a" style="stroke-width:0.12px">150</text>
<line x1="389.50" y1="215.58" x2="391.50" y2="215.58" stroke="#6a6a6a" stroke-width="0.6"/>
<text x="383.60" y="199.39" font-size="5.60" text-anchor="end" font-weight="normal" fill="#1a1a1a" style="stroke-width:0.12px">200</text>
<line x1="389.50" y1="197.44" x2="391.50" y2="197.44" stroke="#6a6a6a" stroke-width="0.6"/>
<text x="383.60" y="181.25" font-size="5.60" text-anchor="end" font-weight="normal" fill="#1a1a1a" style="stroke-width:0.12px">250</text>
<line x1="389.50" y1="179.30" x2="391.50" y2="179.30" stroke="#6a6a6a" stroke-width="0.6"/>
<g transform="translate(372.7,216.6) rotate(-90)">
<text x="0.00" y="0.00" font-size="6.90" text-anchor="middle" font-weight="normal" fill="#1a1a1a" word-spacing="1.6">Half life (min)</text>
</g>
<rect x="397.85" y="241.34" width="10.30" height="28.66" fill="#fff" stroke="#000" stroke-width="0.6"/>
<path d="M403.00,242.06 V240.61 M402.00,240.61 h2 M402.00,242.06 h2" stroke="#222" stroke-width="0.5"/>
<text x="401.40" y="235.61" font-size="6.60" text-anchor="middle" font-weight="normal" fill="#1a1a1a" >b</text>
<rect x="409.85" y="202.52" width="10.30" height="67.48" fill="#808080" stroke="#000" stroke-width="0.6"/>
<path d="M415.00,208.69 V196.35 M414.00,196.35 h2 M414.00,208.69 h2" stroke="#222" stroke-width="0.5"/>
<text x="415.00" y="192.65" font-size="6.60" text-anchor="middle" font-weight="normal" fill="#1a1a1a" >a</text>
<rect x="421.85" y="250.77" width="10.30" height="19.23" fill="#000" stroke="#000" stroke-width="0.6"/>
<path d="M427.00,251.50 V250.05 M426.00,250.05 h2 M426.00,251.50 h2" stroke="#222" stroke-width="0.5"/>
<text x="426.60" y="246.25" font-size="6.60" text-anchor="middle" font-weight="normal" fill="#1a1a1a" >c</text>
<text x="416.00" y="279.10" font-size="6.90" text-anchor="middle" font-weight="normal" fill="#1a1a1a" >Fluorescence light</text>
<rect x="449.45" y="238.25" width="10.30" height="31.75" fill="#fff" stroke="#000" stroke-width="0.6"/>
<path d="M454.60,239.71 V236.80 M453.60,236.80 h2 M453.60,239.71 h2" stroke="#222" stroke-width="0.5"/>
<text x="454.00" y="232.40" font-size="6.60" text-anchor="middle" font-weight="normal" fill="#1a1a1a" >b</text>
<rect x="461.45" y="228.64" width="10.30" height="41.36" fill="#808080" stroke="#000" stroke-width="0.6"/>
<path d="M466.60,232.27 V225.01 M465.60,225.01 h2 M465.60,232.27 h2" stroke="#222" stroke-width="0.5"/>
<text x="466.60" y="220.61" font-size="6.60" text-anchor="middle" font-weight="normal" fill="#1a1a1a" >a</text>
<rect x="473.45" y="230.09" width="10.30" height="39.91" fill="#000" stroke="#000" stroke-width="0.6"/>
<path d="M478.60,231.18 V229.00 M477.60,229.00 h2 M477.60,231.18 h2" stroke="#222" stroke-width="0.5"/>
<text x="478.60" y="223.60" font-size="6.60" text-anchor="middle" font-weight="normal" fill="#1a1a1a" >a</text>
<text x="466.60" y="279.10" font-size="6.90" text-anchor="middle" font-weight="normal" fill="#1a1a1a" >UVC</text>
<rect x="501.15" y="267.39" width="10.30" height="2.61" fill="#fff" stroke="#000" stroke-width="0.6"/>
<path d="M506.30,267.75 V267.03 M505.30,267.03 h2 M505.30,267.75 h2" stroke="#222" stroke-width="0.5"/>
<text x="505.50" y="262.63" font-size="6.60" text-anchor="middle" font-weight="normal" fill="#1a1a1a" >c</text>
<rect x="513.15" y="263.83" width="10.30" height="6.17" fill="#808080" stroke="#000" stroke-width="0.6"/>
<path d="M518.30,264.20 V263.47 M517.30,263.47 h2 M517.30,264.20 h2" stroke="#222" stroke-width="0.5"/>
<text x="517.10" y="257.87" font-size="6.60" text-anchor="middle" font-weight="normal" fill="#1a1a1a" >a</text>
<rect x="525.15" y="264.92" width="10.30" height="5.08" fill="#000" stroke="#000" stroke-width="0.6"/>
<path d="M530.30,265.28 V264.56 M529.30,264.56 h2 M529.30,265.28 h2" stroke="#222" stroke-width="0.5"/>
<text x="529.70" y="259.96" font-size="6.60" text-anchor="middle" font-weight="normal" fill="#1a1a1a" >b</text>
<text x="518.30" y="279.10" font-size="6.90" text-anchor="middle" font-weight="normal" fill="#1a1a1a" >UVA</text>
<rect x="410.40" y="169.40" width="3" height="3" fill="#fff" stroke="#000" stroke-width="0.6"/>
<text x="415.10" y="173.60" font-size="7.00" text-anchor="start" font-weight="normal" fill="#1a1a1a" >ZnPP</text>
<rect x="449.40" y="169.40" width="3" height="3" fill="#808080" stroke="#000" stroke-width="0.6"/>
<text x="454.10" y="173.60" font-size="7.00" text-anchor="start" font-weight="normal" fill="#1a1a1a" >PPIX</text>
<rect x="488.00" y="169.40" width="3" height="3" fill="#000" stroke="#000" stroke-width="0.6"/>
<text x="492.70" y="173.60" font-size="7.00" text-anchor="start" font-weight="normal" fill="#1a1a1a" >ZnPC 5 μM</text>
</svg></body></html>
